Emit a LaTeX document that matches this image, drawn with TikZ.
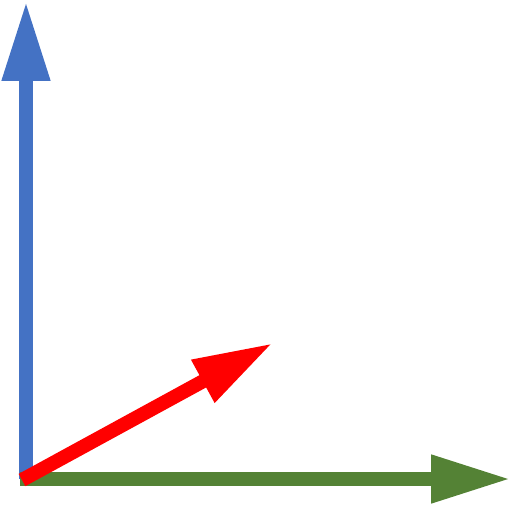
\documentclass[tikz,border=0pt]{standalone}
\usetikzlibrary{arrows.meta}

\definecolor{axisblue}{HTML}{4472C4}
\definecolor{axisgreen}{HTML}{548235}
\definecolor{vecred}{HTML}{FF0000}

\begin{document}
\begin{tikzpicture}[
  x=0.02cm, y=-0.02cm,
  vec/.style={line width=0.28cm, -{Triangle[length=1.6cm, width=0.9cm]}}
]
  \useasboundingbox (0,0) rectangle (512,512);

  \coordinate (o) at (26,479);
  \coordinate (ostart) at (20,479);
  \coordinate (ytip) at (26,1);
  \coordinate (xtip) at (511,479);
  \coordinate (vtip) at (273,343);
  \coordinate (vstart) at (22,480);

  \draw[vec, axisblue] (o) -- (ytip);
  \draw[vec, axisgreen] (ostart) -- (xtip);
  \draw[vec, vecred] (vstart) -- (vtip);
\end{tikzpicture}
\end{document}
